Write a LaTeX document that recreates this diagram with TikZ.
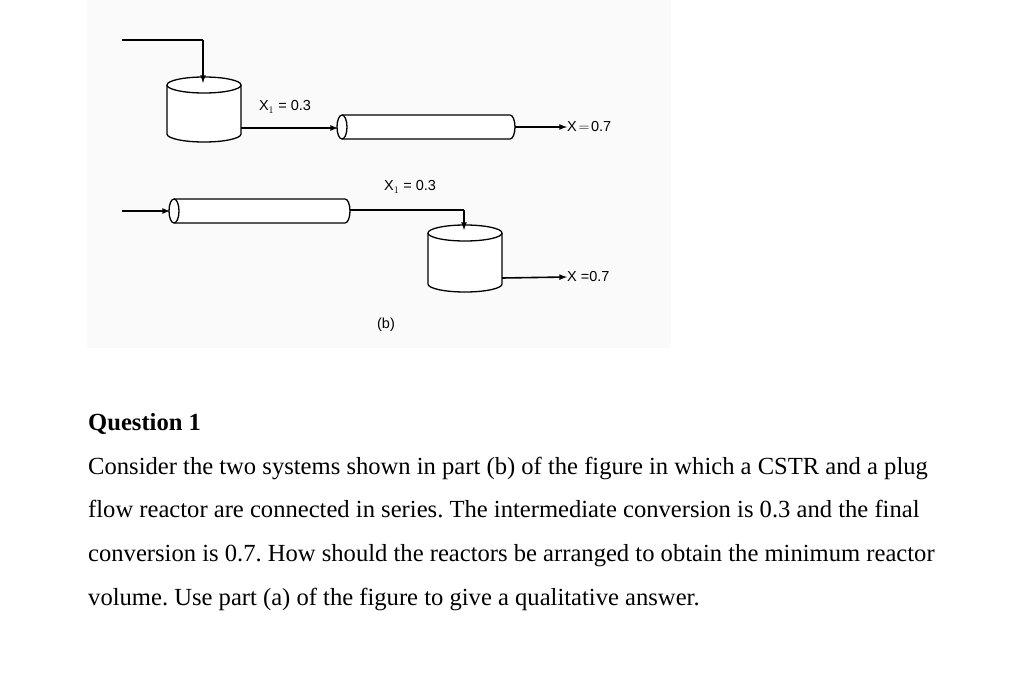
\documentclass[tikz,border=0pt]{standalone}
\usepackage{fontspec}
\setmainfont{Liberation Serif}
\newfontfamily\figfont{Liberation Sans}
\usetikzlibrary{arrows,calc}
\frenchspacing

\tikzset{
  flow/.style={line width=1.6pt,-latex},
  line/.style={line width=1.6pt},
  vessel/.style={line width=1.3pt,fill=white},
  lab/.style={font=\figfont\fontsize{14.5}{16}\selectfont,inner sep=0pt},
  txt/.style={anchor=base west,inner sep=0pt,font=\fontsize{24.6}{28}\selectfont}
}

\begin{document}
\begin{tikzpicture}[x=1pt,y=-1pt]

\useasboundingbox (0,0) rectangle (1024,682);
\fill[white] (0,0) rectangle (1024,682);
\fill[black!2] (87,0) rectangle (671,348);

% upper system: CSTR then tube
\draw[vessel] (167,85) -- (167,134) arc (180:0:37 and 8) -- (241,85);
\draw[vessel] (204,85) ellipse (37 and 8);
\draw[vessel] (342,115) -- (510,115) arc (-90:90:5 and 12) -- (342,139);
\draw[vessel] (342,127) ellipse (5 and 12);

\coordinate (inA) at (122,40);
\coordinate (bendA) at (203,40);
\coordinate (cstrA) at (203,83);
\coordinate (outA) at (241,128);
\coordinate (tubeA) at (338,128);
\coordinate (endA) at (515,127);
\node[lab,anchor=west] (xA) at (567,127) {X $\!=\!$ 0.7};
\node[lab] (xoneA) at (285,107) {X$_1$ = 0.3};

\draw[line] (inA) -- (bendA);
\draw[flow] (bendA) -- (cstrA);
\draw[flow] (outA) -- (tubeA);
\draw[flow] (endA) -- (xA.west);

% lower system: tube then CSTR
\draw[vessel] (174,199) -- (345,199) arc (-90:90:5 and 12) -- (174,223);
\draw[vessel] (174,211) ellipse (5 and 12);
\draw[vessel] (428,233) -- (428,284) arc (180:0:37 and 8) -- (502,233);
\draw[vessel] (465,233) ellipse (37 and 8);

\coordinate (inB) at (122,211);
\coordinate (tubeB) at (170,211);
\coordinate (endB) at (350,210);
\coordinate (bendB) at (464,210);
\coordinate (cstrB) at (464,230);
\coordinate (outB) at (502,278);
\node[lab,anchor=west] (xB) at (567,277) {X =0.7};
\node[lab] (xoneB) at (410,187) {X$_1$ = 0.3};

\draw[flow] (inB) -- (tubeB);
\draw[line] (endB) -- (bendB);
\draw[flow] (bendB) -- (cstrB);
\draw[flow] (outB) -- (xB.west);

\node[lab] (partb) at (386,325) {(b)};

% question text
\node[txt,font=\fontsize{24.6}{28}\selectfont\bfseries] (qhead) at (88,430) {Question 1};
\node[txt] (qone) at (88,474) {Consider the two systems shown in part (b) of the figure in which a CSTR and a plug};
\node[txt] (qtwo) at (88,517) {flow reactor are connected in series. The intermediate conversion is 0.3 and the final};
\node[txt] (qthree) at (88,561) {conversion is 0.7. How should the reactors be arranged to obtain the minimum reactor};
\node[txt] (qfour) at (88,605) {volume. Use part (a) of the figure to give a qualitative answer.};

\end{tikzpicture}
\end{document}
